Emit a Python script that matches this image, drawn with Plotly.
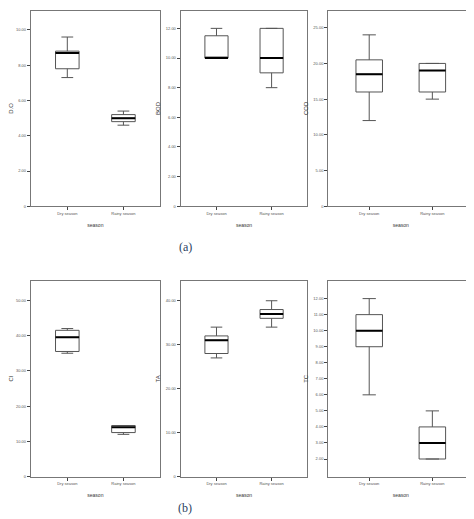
import plotly.graph_objects as go

seasons = ["Dry season", "Rainy season"]
names = ["D.O", "BOD", "COD", "Cl", "TA", "TC"]
low = [[7.3, 4.6], [10.0, 8.0], [12.0, 15.0], [35.0, 12.0], [27.0, 34.0], [6.0, 2.0]]
q1 = [[7.8, 4.8], [10.0, 9.0], [16.0, 16.0], [35.5, 12.5], [28.0, 36.0], [9.0, 2.0]]
med = [[8.7, 5.0], [10.0, 10.0], [18.5, 19.0], [39.5, 14.0], [31.0, 37.0], [10.0, 3.0]]
q3 = [[8.8, 5.2], [11.5, 12.0], [20.5, 20.0], [41.5, 14.5], [32.0, 38.0], [11.0, 4.0]]
high = [[9.6, 5.4], [12.0, 12.0], [24.0, 20.0], [42.0, 14.5], [34.0, 40.0], [12.0, 5.0]]
tickvals = [[0, 2, 4, 6, 8, 10], [0, 2, 4, 6, 8, 10, 12], [0, 5, 10, 15, 20, 25],
            [0, 10, 20, 30, 40, 50], [0, 10, 20, 30, 40], [2, 3, 4, 5, 6, 7, 8, 9, 10, 11, 12]]
ranges = [[0, 11.1], [0, 13.2], [0, 27.4], [0, 55.5], [0, 44.5], [0.9, 13.1]]

xdom = [[0.03, 0.31], [0.355, 0.63], [0.675, 0.99]]
ydom = [[0.615, 0.995], [0.09, 0.47]]

fig = go.Figure()
for i, name in enumerate(names):
    ax = "" if i == 0 else str(i + 1)
    fig.add_trace(go.Box(
        x=seasons, q1=q1[i], median=med[i], q3=q3[i],
        lowerfence=low[i], upperfence=high[i],
        xaxis="x" + ax, yaxis="y" + ax,
        fillcolor="white", line=dict(color="#555", width=1),
        whiskerwidth=0.5, width=0.42, showlegend=False,
        hoverinfo="skip",
    ))
    # thicker median line drawn over the box
    fig.add_trace(go.Box(
        x=seasons, q1=med[i], median=med[i], q3=med[i],
        lowerfence=med[i], upperfence=med[i],
        xaxis="x" + ax, yaxis="y" + ax,
        fillcolor="rgba(0,0,0,0)", line=dict(color="black", width=2),
        whiskerwidth=0, width=0.42, showlegend=False, hoverinfo="skip",
    ))
    r, c = divmod(i, 3)
    fig.update_layout({
        "xaxis" + ax: dict(domain=xdom[c], anchor="y" + ax, showline=True, mirror=True,
                           type="category", range=[-0.65, 1.65],
                           linecolor="#777", ticks="outside", ticklen=3,
                           tickfont=dict(size=4, color="#555"),
                           title=dict(text="season", font=dict(size=5, color="#333"), standoff=8)),
        "yaxis" + ax: dict(domain=ydom[r], anchor="x" + ax, showline=True, mirror=True,
                           linecolor="#777", ticks="outside", ticklen=3,
                           range=ranges[i], tickvals=tickvals[i],
                           ticktext=["%.2f" % v if v else "0" for v in tickvals[i]],
                           tickfont=dict(size=4, color="#555"), showgrid=False, zeroline=False,
                           title=dict(text=name, font=dict(size=6, color="#333"), standoff=4)),
    })

fig.add_annotation(text="(a)", x=0.365, y=0.535, xref="paper", yref="paper",
                   showarrow=False, font=dict(size=12, family="Liberation Serif"))
fig.add_annotation(text="(b)", x=0.365, y=0.012, xref="paper", yref="paper",
                   showarrow=False, font=dict(size=12, family="Liberation Serif"))

fig.update_layout(width=474, height=519, margin=dict(l=4, r=4, t=0, b=4),
                  plot_bgcolor="white", paper_bgcolor="white",
                  font=dict(family="Liberation Sans"))
fig.write_html("out.html")
